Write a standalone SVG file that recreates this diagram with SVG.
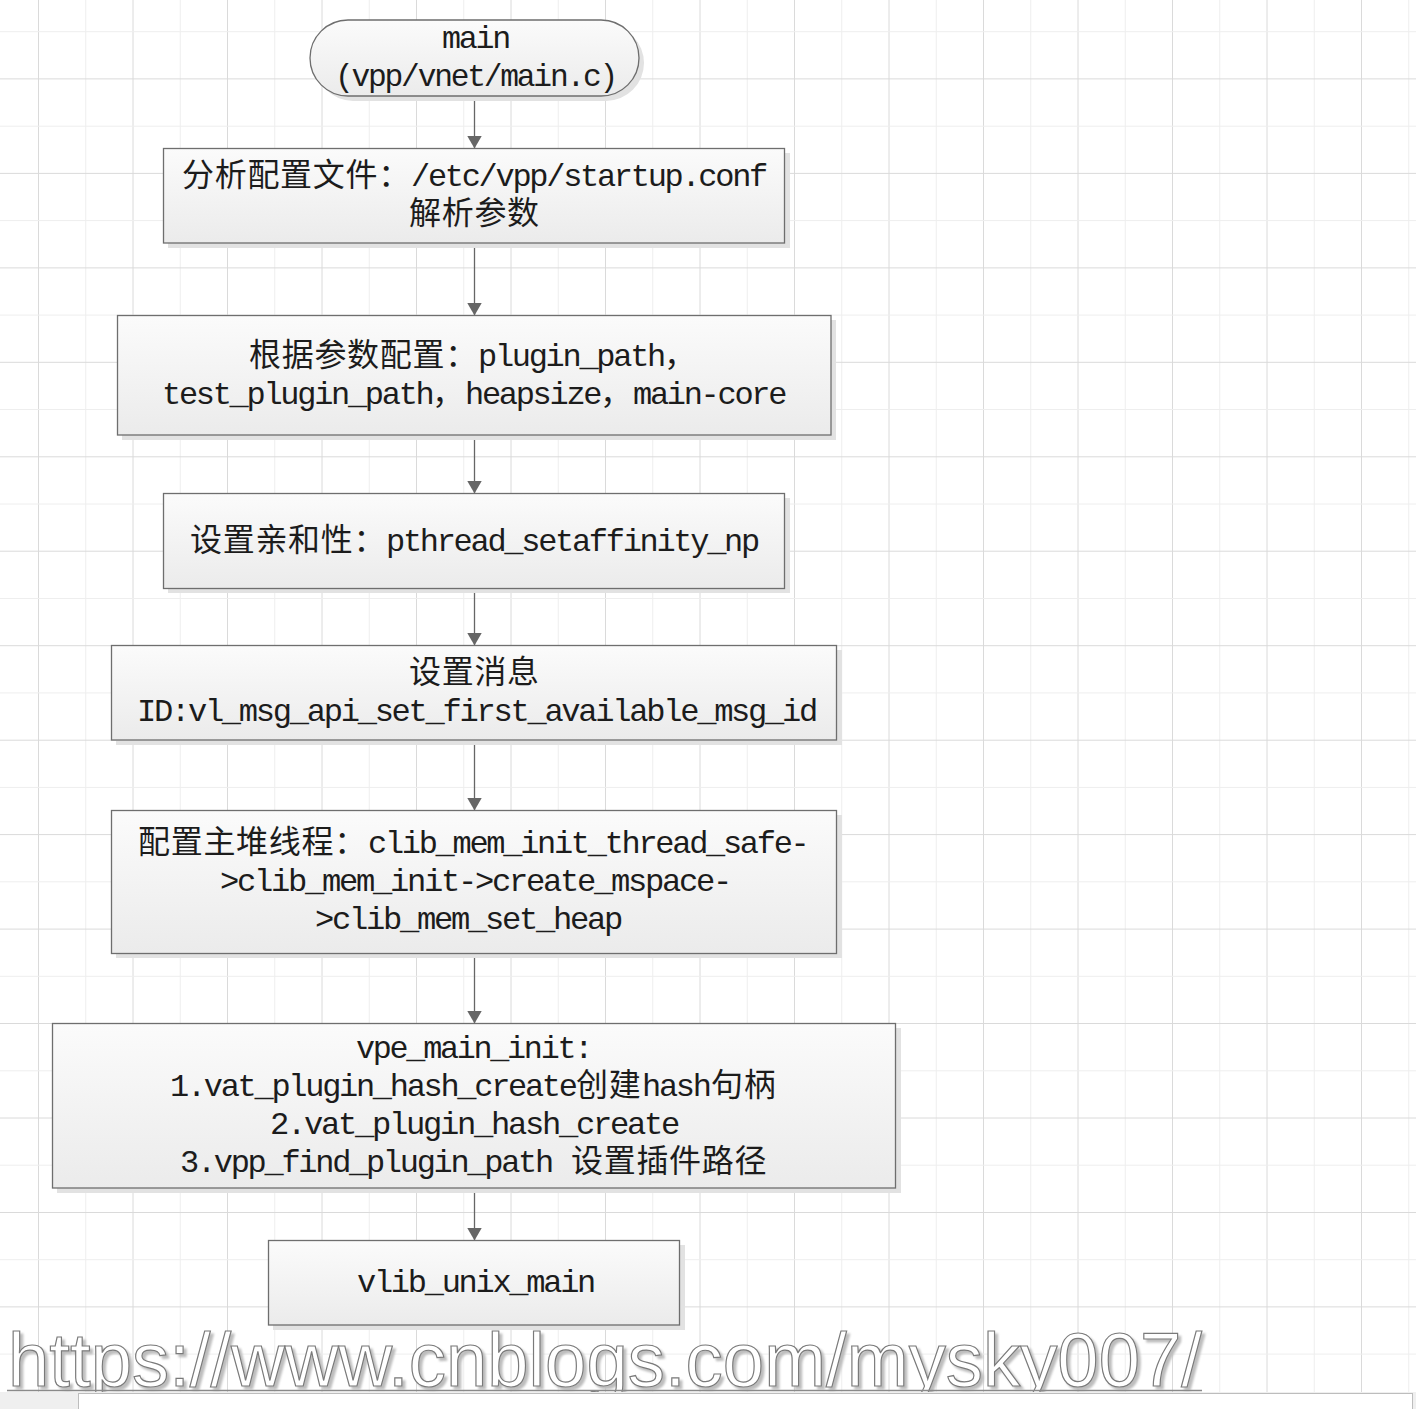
<svg xmlns="http://www.w3.org/2000/svg" width="1416" height="1409" viewBox="0 0 1416 1409">
<defs>
<linearGradient id="nodeFill" x1="0" y1="0" x2="0" y2="1">
<stop offset="0" stop-color="#fbfbfb"/>
<stop offset="1" stop-color="#ebebeb"/>
</linearGradient>
<marker id="arrow" markerUnits="userSpaceOnUse" markerWidth="16" markerHeight="16" refX="13" refY="7.5" orient="auto">
<path d="M0,0 L13,7.5 L0,15 Z" fill="#666666"/>
</marker>
<filter id="wmShadow" x="-5%" y="-30%" width="110%" height="160%">
<feDropShadow dx="3" dy="3" stdDeviation="1" flood-color="#bdbdbd" flood-opacity="1"/>
</filter>
<style>
.gl{stroke:#eeeeee;stroke-width:1}
.gd{stroke:#dadada;stroke-width:1}
.box{fill:url(#nodeFill);stroke:#6e6e6e;stroke-width:1.3}
.sh{fill:#e2e2e2}
.t{font-family:"Liberation Mono","Noto Sans CJK SC",monospace;font-size:32px;fill:#1c1c1c;text-anchor:middle;letter-spacing:-2.3px}
.ts{font-family:"Liberation Mono","Noto Sans CJK SC",monospace;font-size:32px;fill:#1c1c1c;text-anchor:start}
.la{letter-spacing:-2.3px}
.cj{letter-spacing:0.7px}
.conn{stroke:#666666;stroke-width:1.3;fill:none;marker-end:url(#arrow)}
.wm{font-family:"Liberation Sans",Arial,sans-serif;font-size:76px;fill:#ffffff;stroke:#7a7a7a;stroke-width:1.2}
</style>
</defs>
<rect x="0" y="0" width="1416" height="1409" fill="#ffffff"/>
<g id="grid">
<line class="gd" x1="38.5" y1="0" x2="38.5" y2="1392"/>
<line class="gl" x1="85.75" y1="0" x2="85.75" y2="1392"/>
<line class="gd" x1="133" y1="0" x2="133" y2="1392"/>
<line class="gl" x1="180.25" y1="0" x2="180.25" y2="1392"/>
<line class="gd" x1="227.5" y1="0" x2="227.5" y2="1392"/>
<line class="gl" x1="274.75" y1="0" x2="274.75" y2="1392"/>
<line class="gd" x1="322" y1="0" x2="322" y2="1392"/>
<line class="gl" x1="369.25" y1="0" x2="369.25" y2="1392"/>
<line class="gd" x1="416.5" y1="0" x2="416.5" y2="1392"/>
<line class="gl" x1="463.75" y1="0" x2="463.75" y2="1392"/>
<line class="gd" x1="511" y1="0" x2="511" y2="1392"/>
<line class="gl" x1="558.25" y1="0" x2="558.25" y2="1392"/>
<line class="gd" x1="605.5" y1="0" x2="605.5" y2="1392"/>
<line class="gl" x1="652.75" y1="0" x2="652.75" y2="1392"/>
<line class="gd" x1="700" y1="0" x2="700" y2="1392"/>
<line class="gl" x1="747.25" y1="0" x2="747.25" y2="1392"/>
<line class="gd" x1="794.5" y1="0" x2="794.5" y2="1392"/>
<line class="gl" x1="841.75" y1="0" x2="841.75" y2="1392"/>
<line class="gd" x1="889" y1="0" x2="889" y2="1392"/>
<line class="gl" x1="936.25" y1="0" x2="936.25" y2="1392"/>
<line class="gd" x1="983.5" y1="0" x2="983.5" y2="1392"/>
<line class="gl" x1="1030.75" y1="0" x2="1030.75" y2="1392"/>
<line class="gd" x1="1078" y1="0" x2="1078" y2="1392"/>
<line class="gl" x1="1125.25" y1="0" x2="1125.25" y2="1392"/>
<line class="gd" x1="1172.5" y1="0" x2="1172.5" y2="1392"/>
<line class="gl" x1="1219.75" y1="0" x2="1219.75" y2="1392"/>
<line class="gd" x1="1267" y1="0" x2="1267" y2="1392"/>
<line class="gl" x1="1314.25" y1="0" x2="1314.25" y2="1392"/>
<line class="gd" x1="1361.5" y1="0" x2="1361.5" y2="1392"/>
<line class="gl" x1="1408.75" y1="0" x2="1408.75" y2="1392"/>
<line class="gl" x1="0" y1="31.7" x2="1416" y2="31.7"/>
<line class="gd" x1="0" y1="78.9" x2="1416" y2="78.9"/>
<line class="gl" x1="0" y1="126.2" x2="1416" y2="126.2"/>
<line class="gd" x1="0" y1="173.4" x2="1416" y2="173.4"/>
<line class="gl" x1="0" y1="220.6" x2="1416" y2="220.6"/>
<line class="gd" x1="0" y1="267.9" x2="1416" y2="267.9"/>
<line class="gl" x1="0" y1="315.1" x2="1416" y2="315.1"/>
<line class="gd" x1="0" y1="362.3" x2="1416" y2="362.3"/>
<line class="gl" x1="0" y1="409.5" x2="1416" y2="409.5"/>
<line class="gd" x1="0" y1="456.8" x2="1416" y2="456.8"/>
<line class="gl" x1="0" y1="504" x2="1416" y2="504"/>
<line class="gd" x1="0" y1="551.2" x2="1416" y2="551.2"/>
<line class="gl" x1="0" y1="598.5" x2="1416" y2="598.5"/>
<line class="gd" x1="0" y1="645.7" x2="1416" y2="645.7"/>
<line class="gl" x1="0" y1="692.9" x2="1416" y2="692.9"/>
<line class="gd" x1="0" y1="740.2" x2="1416" y2="740.2"/>
<line class="gl" x1="0" y1="787.4" x2="1416" y2="787.4"/>
<line class="gd" x1="0" y1="834.6" x2="1416" y2="834.6"/>
<line class="gl" x1="0" y1="881.8" x2="1416" y2="881.8"/>
<line class="gd" x1="0" y1="929.1" x2="1416" y2="929.1"/>
<line class="gl" x1="0" y1="976.3" x2="1416" y2="976.3"/>
<line class="gd" x1="0" y1="1023.5" x2="1416" y2="1023.5"/>
<line class="gl" x1="0" y1="1070.8" x2="1416" y2="1070.8"/>
<line class="gd" x1="0" y1="1118" x2="1416" y2="1118"/>
<line class="gl" x1="0" y1="1165.2" x2="1416" y2="1165.2"/>
<line class="gd" x1="0" y1="1212.5" x2="1416" y2="1212.5"/>
<line class="gl" x1="0" y1="1259.7" x2="1416" y2="1259.7"/>
<line class="gd" x1="0" y1="1306.9" x2="1416" y2="1306.9"/>
<line class="gl" x1="0" y1="1354.1" x2="1416" y2="1354.1"/>
</g>
<g id="connectors">
<line class="conn" x1="474.5" y1="96" x2="474.5" y2="148.5"/>
<line class="conn" x1="474.5" y1="243" x2="474.5" y2="315.5"/>
<line class="conn" x1="474.5" y1="435" x2="474.5" y2="493.5"/>
<line class="conn" x1="474.5" y1="588.5" x2="474.5" y2="645.5"/>
<line class="conn" x1="474.5" y1="740" x2="474.5" y2="810.5"/>
<line class="conn" x1="474.5" y1="953.5" x2="474.5" y2="1023.5"/>
<line class="conn" x1="474.5" y1="1188" x2="474.5" y2="1240.5"/>
</g>
<g id="n1">
<rect class="sh" x="315" y="25" width="329" height="76" rx="38"/>
<rect class="box" x="310" y="20" width="329" height="76" rx="38"/>
<text class="t" x="475.5" y="48" textLength="67" lengthAdjust="spacingAndGlyphs">main</text>
<text class="t" x="475.5" y="86" textLength="281" lengthAdjust="spacingAndGlyphs">(vpp/vnet/main.c)</text>
</g>
<g id="n2">
<rect class="sh" x="168" y="153" width="622" height="95"/>
<rect class="box" x="163.5" y="148.5" width="621" height="94.5"/>
<text class="ts" y="186"><tspan class="cj" x="182">分析配置文件：</tspan><tspan class="la" x="411">/etc/vpp/startup.conf</tspan></text>
<text class="ts cj" x="409" y="224">解析参数</text>
</g>
<g id="n3">
<rect class="sh" x="122" y="320" width="714" height="120"/>
<rect class="box" x="117.5" y="315.5" width="713.5" height="119.5"/>
<text class="ts" y="366"><tspan class="cj" x="249">根据参数配置：</tspan><tspan class="la" x="478">plugin_path</tspan><tspan class="cj" x="664">，</tspan></text>
<text class="ts" y="404"><tspan class="la" x="162">test_plugin_path</tspan><tspan class="cj" x="432">，</tspan><tspan class="la" x="465">heapsize</tspan><tspan class="cj" x="600">，</tspan><tspan class="la" x="633">main-core</tspan></text>
</g>
<g id="n4">
<rect class="sh" x="168" y="498" width="622" height="95"/>
<rect class="box" x="163.5" y="493.5" width="621" height="95"/>
<text class="ts" y="551"><tspan class="cj" x="190">设置亲和性：</tspan><tspan class="la" x="386">pthread_setaffinity_np</tspan></text>
</g>
<g id="n5">
<rect class="sh" x="116" y="650" width="726" height="95"/>
<rect class="box" x="111.5" y="645.5" width="725" height="94.5"/>
<text class="ts cj" x="409" y="683">设置消息</text>
<text class="t" x="476.5" y="721" textLength="679" lengthAdjust="spacingAndGlyphs">ID:vl_msg_api_set_first_available_msg_id</text>
</g>
<g id="n6">
<rect class="sh" x="116" y="815" width="726" height="143"/>
<rect class="box" x="111.5" y="810.5" width="725" height="143"/>
<text class="ts" y="853"><tspan class="cj" x="138">配置主堆线程：</tspan><tspan class="la" x="368">clib_mem_init_thread_safe-</tspan></text>
<text class="t" x="475" y="891" textLength="510" lengthAdjust="spacingAndGlyphs">&gt;clib_mem_init-&gt;create_mspace-</text>
<text class="t" x="468" y="929" textLength="306" lengthAdjust="spacingAndGlyphs">&gt;clib_mem_set_heap</text>
</g>
<g id="n7">
<rect class="sh" x="57" y="1028" width="844" height="165"/>
<rect class="box" x="52.5" y="1023.5" width="843" height="164.5"/>
<text class="t" x="473.5" y="1058" textLength="235" lengthAdjust="spacingAndGlyphs">vpe_main_init:</text>
<text class="ts" y="1096"><tspan class="la" x="170">1.vat_plugin_hash_create</tspan><tspan class="cj" x="576">创建</tspan><tspan class="la" x="642">hash</tspan><tspan class="cj" x="711">句柄</tspan></text>
<text class="t" x="474" y="1134" textLength="408" lengthAdjust="spacingAndGlyphs">2.vat_plugin_hash_create</text>
<text class="ts" y="1172"><tspan class="la" x="180">3.vpp_find_plugin_path</tspan><tspan class="cj" x="571">设置插件路径</tspan></text>
</g>
<g id="n8">
<rect class="sh" x="273" y="1245" width="412" height="85"/>
<rect class="box" x="268.5" y="1240.5" width="411" height="84.5"/>
<text class="t" x="475.5" y="1292" textLength="237" lengthAdjust="spacingAndGlyphs">vlib_unix_main</text>
</g>
<g id="watermark">
<text class="wm" x="8" y="1386" textLength="1194" lengthAdjust="spacingAndGlyphs" filter="url(#wmShadow)">https://www.cnblogs.com/mysky007/</text>
<line x1="7" y1="1390.5" x2="1202" y2="1390.5" stroke="#8a8a8a" stroke-width="1.5"/>
</g>
<g id="bottom-bar">
<rect x="0" y="1392" width="1416" height="17" fill="#efefef"/>
<rect x="78.5" y="1393.5" width="1334" height="20" fill="#ffffff" stroke="#bdbdbd" stroke-width="1"/>
</g>
</svg>
